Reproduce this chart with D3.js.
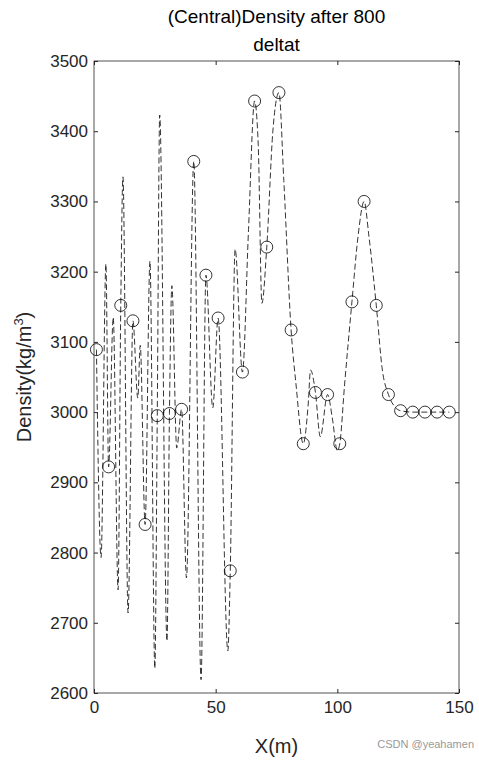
<!DOCTYPE html>
<html><head><meta charset="utf-8">
<script src="https://cdn.jsdelivr.net/npm/d3@7"></script>
<style>body{margin:0;background:#fff}text{font-family:"Liberation Sans",Arial,sans-serif}</style>
</head><body><svg id="c" width="479" height="761"></svg>
<script>
const lineX=[1,2.9,4.9,6,7.9,9.9,11,11.9,14,16,18,19,21,23,25,26,27,30,31,32,34,36,38,41,44,46,48.8,51,55,56,58,61,63.5,66,67.5,69,71,73.5,76,78,81,83,86,88,89,91,93,96,98,100,101,103,106,108.5,111,113,116,118.5,121,123.5,126,131,136,141,146];
const lineY=[3089,2793,3211,2922,3135,2747,3152,3335,2714,3130,3020,3095,2840,3215,2635,2995,3423,2674,2998,3180,2949,3004,2764,3357,2619,3195,3006,3134,2660,2774,3232,3057,3260,3443,3380,3155,3235,3400,3455,3330,3117,3040,2955,3010,3060,3028,2965,3025,2990,2945,2955,3040,3157,3250,3300,3250,3152,3060,3025,3008,3002,3000,3000,3000,3000];
const markerX=[1,6,11,16,21,26,31,36,41,46,51,56,61,66,71,76,81,86,91,96,101,106,111,116,121,126,131,136,141,146];
const markerY=[3089,2922,3152,3130,2840,2995,2998,3004,3357,3195,3134,2774,3057,3443,3235,3455,3117,2955,3028,3025,2955,3157,3300,3152,3025,3002,3000,3000,3000,3000];
const xTicks=[0,50,100,150], yTicks=[2600,2700,2800,2900,3000,3100,3200,3300,3400,3500];
const L=94,R=459,T=61,B=693;
const svg=d3.select("#c");
const x=d3.scaleLinear().domain([0,150]).range([L,R]);
const y=d3.scaleLinear().domain([2600,3500]).range([B,T]);
svg.append("path").datum(lineX.map((d,i)=>[d,lineY[i]]))
 .attr("d",d3.line().x(d=>x(d[0])).y(d=>y(d[1])).curve(d3.curveMonotoneX))
 .attr("fill","none").attr("stroke","#000").attr("stroke-width",0.8).attr("stroke-dasharray","6,3");
svg.selectAll("circle").data(markerX).join("circle").attr("cx",d=>x(d)).attr("cy",(d,i)=>y(markerY[i]))
 .attr("r",6).attr("fill","none").attr("stroke","#000").attr("stroke-width",0.8);
svg.append("rect").attr("x",L).attr("y",T).attr("width",R-L).attr("height",B-T).attr("fill","none").attr("stroke","#262626").attr("stroke-width",0.8);
const fs=17;
const xa=svg.append("g").attr("transform",`translate(0,${B})`).call(d3.axisBottom(x).tickValues(xTicks).tickFormat(d3.format("d")).tickSizeInner(-4).tickSizeOuter(0).tickPadding(8));
const xt=svg.append("g").attr("transform",`translate(0,${T})`).call(d3.axisTop(x).tickValues(xTicks).tickSizeInner(-4).tickSizeOuter(0).tickFormat(""));
const ya=svg.append("g").attr("transform",`translate(${L},0)`).call(d3.axisLeft(y).tickValues(yTicks).tickFormat(d3.format("d")).tickSizeInner(-4).tickSizeOuter(0).tickPadding(6));
const yr=svg.append("g").attr("transform",`translate(${R},0)`).call(d3.axisRight(y).tickValues(yTicks).tickSizeInner(-4).tickSizeOuter(0).tickFormat(""));
[xa,xt,ya,yr].forEach(g=>{g.select(".domain").remove();g.selectAll("line").attr("stroke","#262626");g.selectAll("text").attr("font-size",fs).attr("fill","#262626").style("font-family","Liberation Sans,Arial");});
svg.append("text").attr("x",(L+R)/2).attr("y",23).attr("text-anchor","middle").attr("font-size",19).attr("fill","#000").text("(Central)Density after 800");
svg.append("text").attr("x",(L+R)/2).attr("y",51).attr("text-anchor","middle").attr("font-size",19).attr("fill","#000").text("deltat");
svg.append("text").attr("x",(L+R)/2).attr("y",753).attr("text-anchor","middle").attr("font-size",20).attr("fill","#262626").text("X(m)");
const yl=svg.append("text").attr("transform",`translate(31,${(T+B)/2}) rotate(-90)`).attr("text-anchor","middle").attr("font-size",20).attr("fill","#262626");
yl.append("tspan").text("Density(kg/m");
yl.append("tspan").attr("font-size",13).attr("dy",-8).text("3");
yl.append("tspan").attr("dy",8).text(")");
svg.append("text").attr("x",474).attr("y",748).attr("text-anchor","end").attr("font-size",11).attr("fill","#999").text("CSDN @yeahamen");
</script></body></html>
